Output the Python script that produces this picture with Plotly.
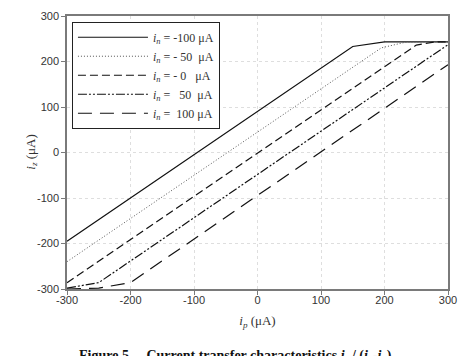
import plotly.graph_objects as go

# data
ip_m100 = [-300, 150, 200, 300]
iz_m100 = [-195, 233, 243, 243]
ip_m50 = [-300, 195, 235, 300]
iz_m50 = [-240, 230, 243, 243]
ip_0 = [-300, 250, 280, 300]
iz_0 = [-286, 236, 243, 243]
ip_50 = [-300, -250, 300]
iz_50 = [-298, -286, 237]
ip_100 = [-300, -250, -200, 300]
iz_100 = [-300, -298, -286, 193]

tick_vals = [-300, -200, -100, 0, 100, 200, 300]
tick_text = ["-300", "-200", "-100", "0", "100", "200", "300"]

NB = "\u00a0"
names = [
    f"<i>i<sub>n</sub></i> = -100{NB}μA",
    f"<i>i<sub>n</sub></i> = -{NB}50{NB}{NB}μA",
    f"<i>i<sub>n</sub></i> = -{NB}0{NB}{NB}{NB}μA",
    f"<i>i<sub>n</sub></i> ={NB}{NB}{NB}50{NB}{NB}μA",
    f"<i>i<sub>n</sub></i> ={NB}{NB}100{NB}μA",
]
series = [(ip_m100, iz_m100, "solid", "#111111", 1.2),
          (ip_m50, iz_m50, "1px,2px", "#555555", 1.0),
          (ip_0, iz_0, "8px,4px", "#111111", 1.2),
          (ip_50, iz_50, "9px,2px,2px,2px,2px,2px", "#111111", 1.2),
          (ip_100, iz_100, "14px,8px", "#111111", 1.2)]

fig = go.Figure()
for (x, y, d, c, w), n in zip(series, names):
    fig.add_trace(go.Scatter(x=x, y=y, mode="lines", name=n,
                             line=dict(color=c, width=w, dash=d)))

axis_common = dict(
    range=[-300, 300], tickvals=tick_vals, ticktext=tick_text,
    showline=True, linecolor="#7a7a7a", linewidth=1.5, mirror=True,
    ticks="outside", ticklen=4, tickcolor="#7a7a7a", tickwidth=1,
    showgrid=True, gridcolor="#dedede", griddash="dot", gridwidth=1,
    zeroline=False, automargin=False,
    tickfont=dict(family="Liberation Sans, Arial", size=11, color="#333333"),
)

serif = "Liberation Serif, Times New Roman"
fig.update_layout(
    width=466, height=348,
    margin=dict(l=59, r=26, t=8, b=67),
    paper_bgcolor="white", plot_bgcolor="white",
    showlegend=True,
    legend=dict(x=0.013, y=0.979, xanchor="left", yanchor="top",
                bordercolor="#222222", borderwidth=1, bgcolor="white",
                font=dict(family=serif, size=12, color="#333333"),
                itemwidth=70, tracegroupgap=0),
    xaxis=dict(**axis_common, ticklabelstandoff=-4,
               title=dict(text="<i>i<sub>p</sub></i> (μA)", standoff=11,
                          font=dict(family=serif, size=13, color="#333333"))),
    yaxis=dict(**axis_common),
)

fig.add_annotation(
    text="<i>i<sub>z</sub></i> (μA)", textangle=-90,
    xref="paper", yref="paper", x=-0.094, y=0.5, xanchor="center", yanchor="middle",
    showarrow=False, font=dict(family=serif, size=13, color="#333333"),
)

fig.add_annotation(
    text="<b>Figure 5" + NB * 5 + "Current transfer characteristics <i>i<sub>z</sub></i> / (<i>i<sub>p</sub></i>-<i>i<sub>n</sub></i>)</b>",
    xref="paper", yref="paper", x=0.026, y=-0.207, xanchor="left", yanchor="top",
    showarrow=False,
    font=dict(family=serif, size=14, color="#111111"),
)

fig.write_html("out.html")
